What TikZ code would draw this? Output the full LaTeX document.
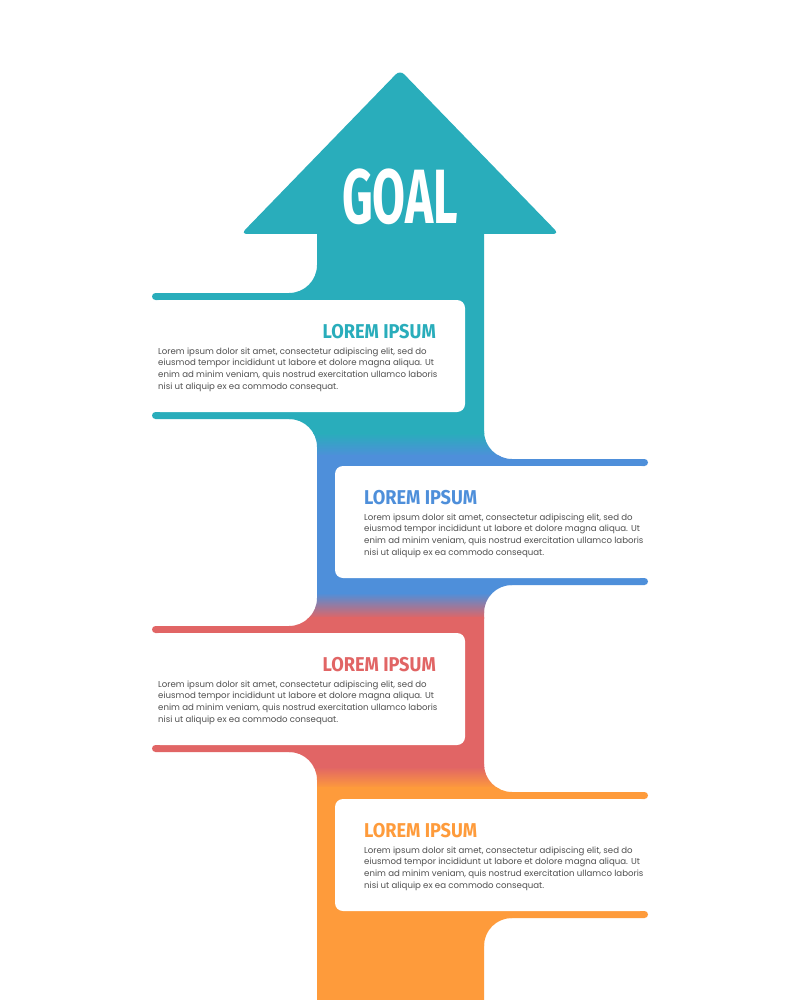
\documentclass[tikz,border=0pt]{standalone}
\usepackage{fontspec}
\usepackage{tikz}
\newfontfamily\goalfont[FakeStretch=0.62]{Fira Sans}
\newfontfamily\headfont[FakeStretch=0.91]{Fira Sans}
\newfontfamily\bodyfont{Poppins}
\definecolor{goalteal}{HTML}{29ADBB}
\definecolor{goalblue}{HTML}{4E8FDA}
\definecolor{goalred}{HTML}{E16565}
\definecolor{goalorange}{HTML}{FE9B3B}
\definecolor{bodygray}{HTML}{505050}
\newcommand\paintband{%
  \fill[goalteal] (0,0) rectangle (800,434);
  \shade[top color=goalteal, bottom color=goalblue] (0,433) rectangle (800,456);
  \fill[goalblue] (0,455) rectangle (800,594);
  \shade[top color=goalblue, bottom color=goalred] (0,593) rectangle (800,618);
  \fill[goalred] (0,617) rectangle (800,768);
  \shade[top color=goalred, bottom color=goalorange] (0,767) rectangle (800,788);
  \fill[goalorange] (0,787) rectangle (800,1000);}
\newcommand\bandpiece[1]{\begin{scope}\clip #1; \paintband\end{scope}}
\newcommand\loremlines{{Lorem ipsum dolor sit amet, consectetur adipiscing elit, sed do},
  {eiusmod tempor incididunt ut labore et dolore magna aliqua. Ut},
  {enim ad minim veniam, quis nostrud exercitation ullamco laboris},
  {nisi ut aliquip ex ea commodo consequat.}}

\begin{document}
\begin{tikzpicture}[x=1pt, y=-1pt,
    card/.style={rectangle, fill=white, rounded corners=8pt, minimum width=313pt, minimum height=112pt, inner sep=0pt},
    heading/.style={font=\headfont\bfseries\fontsize{20}{20}\selectfont, inner sep=0pt},
    bodyline/.style={font=\bodyfont\fontsize{8.6}{10}\selectfont, text=bodygray, inner sep=0pt, anchor=base west}]
  \fill[white] (0,0) rectangle (800,1000);
  \useasboundingbox (0,0) rectangle (800,1000);

  \bandpiece{[rounded corners=6pt] (400,70) -- (559,234) -- (241,234) -- cycle}
  \bandpiece{(317,225) rectangle (484,1000)}
  \node[font=\goalfont\bfseries\fontsize{77}{77}\selectfont, text=white, anchor=base, inner sep=0pt] (goal) at (400,223) {GOAL};

  \foreach \T/\col [count=\k] in {300/goalteal, 466/goalblue, 633/goalred, 799/goalorange} {
    \ifodd\k
      \bandpiece{[rounded corners=3.5pt] (152,\T-7) rectangle (330,\T)}
      \bandpiece{[rounded corners=3.5pt] (152,\T+112) rectangle (330,\T+119)}
      \bandpiece{(317,\T-35) .. controls (317,\T-19.5) and (304.5,\T-7) .. (289,\T-7) -- (289,\T-5) -- (320,\T-5) -- (320,\T-35) -- cycle}
      \bandpiece{(289,\T+119) .. controls (304.5,\T+119) and (317,\T+131.5) .. (317,\T+147) -- (320,\T+147) -- (320,\T+117) -- (289,\T+117) -- cycle}
      \node[card] (card\k) at (308.5,\T+56) {};
      \node[heading, text=\col, anchor=base east] (head\k) at (436,\T+38) {LOREM IPSUM};
      \foreach \line [count=\j] in \loremlines
        \node[bodyline] (body\k-\j) at (158,\T+42.3+11.7*\j) {\line};
    \else
      \bandpiece{[rounded corners=3.5pt] (470,\T-7) rectangle (648,\T)}
      \bandpiece{[rounded corners=3.5pt] (470,\T+112) rectangle (648,\T+119)}
      \bandpiece{(484,\T-35) .. controls (484,\T-19.5) and (496.5,\T-7) .. (512,\T-7) -- (512,\T-5) -- (481,\T-5) -- (481,\T-35) -- cycle}
      \bandpiece{(512,\T+119) .. controls (496.5,\T+119) and (484,\T+131.5) .. (484,\T+147) -- (481,\T+147) -- (481,\T+117) -- (512,\T+117) -- cycle}
      \node[card] (card\k) at (491.5,\T+56) {};
      \node[heading, text=\col, anchor=base west] (head\k) at (364,\T+38) {LOREM IPSUM};
      \foreach \line [count=\j] in \loremlines
        \node[bodyline] (body\k-\j) at (364,\T+42.3+11.7*\j) {\line};
    \fi
  }
\end{tikzpicture}
\end{document}
